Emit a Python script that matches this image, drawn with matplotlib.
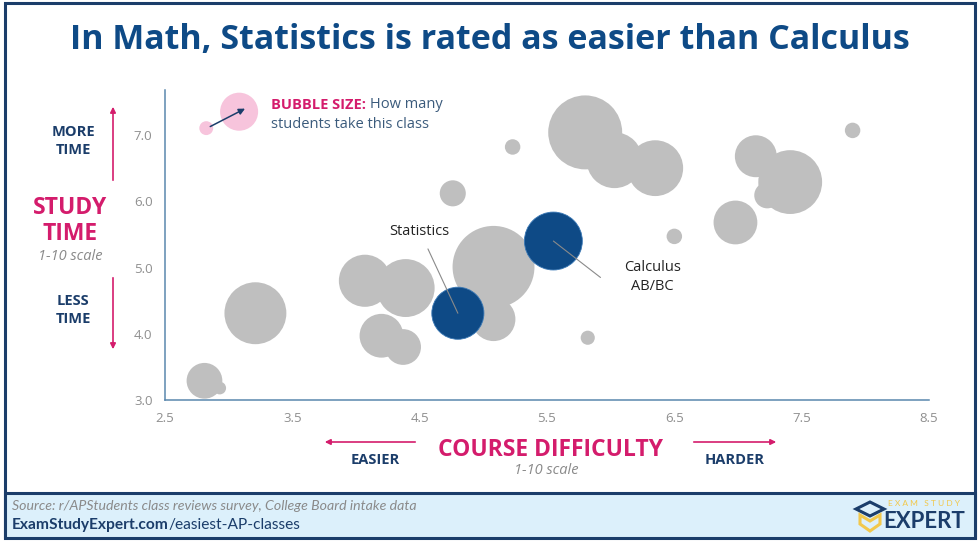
import matplotlib.pyplot as plt
import numpy as np
from matplotlib.patches import FancyArrowPatch, Rectangle, Polygon

# course difficulty (x), study time (y), students taking the class (thousands, bubble area)
difficulty = [2.81, 2.93, 3.21, 4.07, 4.39, 4.20, 4.37, 5.08, 5.08, 4.76, 5.82,
              5.23, 5.80, 6.03, 6.35, 6.50, 6.98, 7.14, 7.41, 7.23, 7.90]
study_time = [3.29, 3.18, 4.31, 4.80, 4.69, 3.97, 3.80, 5.01, 4.22, 6.12, 3.94,
              6.82, 7.04, 6.62, 6.50, 5.47, 5.68, 6.68, 6.29, 6.09, 7.07]
students = [32, 4, 96, 68, 84, 48, 32, 168, 48, 17, 5,
            6, 137, 78, 78, 6, 48, 44, 102, 17, 6]

# highlighted classes
hi_names = ['Statistics', 'Calculus\nAB/BC']
hi_difficulty = [4.80, 5.55]
hi_study_time = [4.31, 5.40]
hi_students = [68, 84]

xticks = [2.5, 3.5, 4.5, 5.5, 6.5, 7.5, 8.5]
yticks = [3.0, 4.0, 5.0, 6.0, 7.0]

NAVY = '#0e4a86'
DARK = '#1b3d6a'
PINK = '#d41c6c'
GRAY = '#bfbfbf'
TICK = '#8f8f8f'
GOLD = '#f2c84b'

plt.rcParams['font.family'] = ['Open Sans', 'DejaVu Sans']

W, H = 980, 541
fig = plt.figure(figsize=(9.8, 5.41), dpi=100)

def fx(x):
    return x / W

def fy(y):
    return 1 - y / H

# frame and footer band
fig.add_artist(Rectangle((fx(5), fy(537)), fx(970), fy(3) - fy(537), transform=fig.transFigure,
                         fill=False, edgecolor=DARK, lw=2.2))
fig.add_artist(Rectangle((fx(5), fy(538)), fx(970), fy(493) - fy(538), transform=fig.transFigure,
                         facecolor='#dcf0fb', edgecolor=DARK, lw=2.2))

fig.text(0.5, fy(40), 'In Math, Statistics is rated as easier than Calculus', ha='center', va='center',
         fontsize=24.5, fontweight='bold', color=NAVY)

ax = fig.add_axes([fx(165), fy(400), fx(929) - fx(165), fy(90) - fy(400)])
scale = 20.7
ax.scatter(difficulty, study_time, s=np.array(students) * scale, color=GRAY, edgecolors='none', zorder=2)
ax.scatter(hi_difficulty, hi_study_time, s=np.array(hi_students) * scale, color=NAVY,
           edgecolors='#3a78b5', linewidths=0.6, zorder=3)

ax.set_xlim(2.5, 8.5)
ax.set_ylim(3.0, 7.68)
ax.set_xticks(xticks)
ax.set_yticks(yticks)
ax.set_xticklabels([f'{v:.1f}' for v in xticks])
ax.set_yticklabels([f'{v:.1f}' for v in yticks])
ax.tick_params(length=0, colors=TICK, labelsize=9.5, pad=9)
for side in ['top', 'right']:
    ax.spines[side].set_visible(False)
for side in ['left', 'bottom']:
    ax.spines[side].set_color('#5a87ad')
    ax.spines[side].set_linewidth(1.1)

# annotations for highlighted classes
ax.annotate(hi_names[0], xy=(hi_difficulty[0], hi_study_time[0]), xytext=(4.5, 5.55),
            ha='center', va='center', fontsize=10.5, color='#222222',
            arrowprops=dict(arrowstyle='-', color='#8a8a8a', lw=0.8, shrinkA=6, shrinkB=0), zorder=4)
ax.annotate('', xy=(hi_difficulty[1], hi_study_time[1]), xytext=(5.92, 4.85),
            arrowprops=dict(arrowstyle='-', color='#8a8a8a', lw=0.8, shrinkA=0, shrinkB=0), zorder=4)
ax.text(6.33, 4.86, hi_names[1], ha='center', va='center', fontsize=10.5, color='#222222',
        linespacing=1.35, zorder=4)

# bubble size legend
ax.scatter([0.054, 0.097], [0.877, 0.93], s=[100, 750], color='#f7c4dc', edgecolors='none',
           transform=ax.transAxes, zorder=2, clip_on=False)
ax.annotate('', xy=(0.108, 0.944), xytext=(0.056, 0.878), xycoords='axes fraction',
            arrowprops=dict(arrowstyle='-|>', color=DARK, lw=1.1, mutation_scale=9))
bt = fig.text(fx(271), fy(105), 'BUBBLE SIZE:', fontsize=10.5, fontweight='bold', color=PINK, va='center')
fig.canvas.draw()
bx = bt.get_window_extent().x1
fig.text((bx + 4) / W, fy(105), 'How many', fontsize=10.5, color='#3b5b7c', va='center')
fig.text(fx(271), fy(125), 'students take this class', fontsize=10.5, color='#3b5b7c', va='center')

# y-axis label block
fig.text(fx(73), fy(141), 'MORE\nTIME', ha='center', va='center', fontsize=10.5, fontweight='bold',
         color=DARK, linespacing=1.45)
fig.text(fx(70), fy(221), 'STUDY\nTIME', ha='center', va='center', fontsize=16.5, fontweight='bold',
         color=PINK, linespacing=1.1)
fig.text(fx(70), fy(257), '1-10 scale', ha='center', va='center', fontsize=10.5, style='italic', color='#8a8a8a')
fig.text(fx(73), fy(310), 'LESS\nTIME', ha='center', va='center', fontsize=10.5, fontweight='bold',
         color=DARK, linespacing=1.45)
fig.add_artist(FancyArrowPatch((fx(113), fy(183)), (fx(113), fy(104)), transform=fig.transFigure,
                               arrowstyle='-|>', mutation_scale=8, color=PINK, lw=1.2))
fig.add_artist(FancyArrowPatch((fx(113), fy(275)), (fx(113), fy(352)), transform=fig.transFigure,
                               arrowstyle='-|>', mutation_scale=8, color=PINK, lw=1.2))

# x-axis label block
fig.text(fx(551), fy(450), 'COURSE DIFFICULTY', ha='center', va='center', fontsize=16.5, fontweight='bold',
         color=PINK)
fig.text(fx(546), fy(470), '1-10 scale', ha='center', va='center', fontsize=10.5, style='italic', color='#8a8a8a')
fig.text(fx(375), fy(460), 'EASIER', ha='center', va='center', fontsize=10.5, fontweight='bold', color=DARK)
fig.text(fx(735), fy(460), 'HARDER', ha='center', va='center', fontsize=10.5, fontweight='bold', color=DARK)
fig.add_artist(FancyArrowPatch((fx(418), fy(442)), (fx(322), fy(442)), transform=fig.transFigure,
                               arrowstyle='-|>', mutation_scale=8, color=PINK, lw=1.2))
fig.add_artist(FancyArrowPatch((fx(691), fy(442)), (fx(779), fy(442)), transform=fig.transFigure,
                               arrowstyle='-|>', mutation_scale=8, color=PINK, lw=1.2))

# footer
fig.text(fx(12), fy(506), 'Source: r/APStudents class reviews survey, College Board intake data',
         fontsize=10.2, style='italic', color='#8a8a8a', va='center', family='Lato')
t = fig.text(fx(12), fy(525), 'ExamStudyExpert.com', fontsize=11.2, fontweight='bold', color=DARK,
             va='center', family='Lato')
fig.canvas.draw()
bb = t.get_window_extent()
fig.text(bb.x1 / W, fy(525), '/easiest-AP-classes', fontsize=11.2, color=DARK, va='center', family='Lato')

# logo
fig.text(fx(924), fy(503), 'E X A M   S T U D Y', fontsize=6, color=GOLD, ha='center', va='center',
         family='Lato')
fig.text(fx(924), fy(521), 'EXPERT', fontsize=16, fontweight='bold', color=DARK, ha='center', va='center',
         family='Lato')
cap = [(856, 509), (870, 502), (884, 509), (870, 516)]
fig.add_artist(Polygon([(fx(a), fy(b)) for a, b in cap], closed=True, transform=fig.transFigure,
                       facecolor='none', edgecolor=DARK, lw=2.2))
shield = [(860, 515), (860, 524), (870, 531), (880, 524), (880, 515), (870, 521)]
fig.add_artist(Polygon([(fx(a), fy(b)) for a, b in shield], closed=True, transform=fig.transFigure,
                       facecolor='none', edgecolor=GOLD, lw=2.2))

fig.savefig('out.png', dpi=100)
